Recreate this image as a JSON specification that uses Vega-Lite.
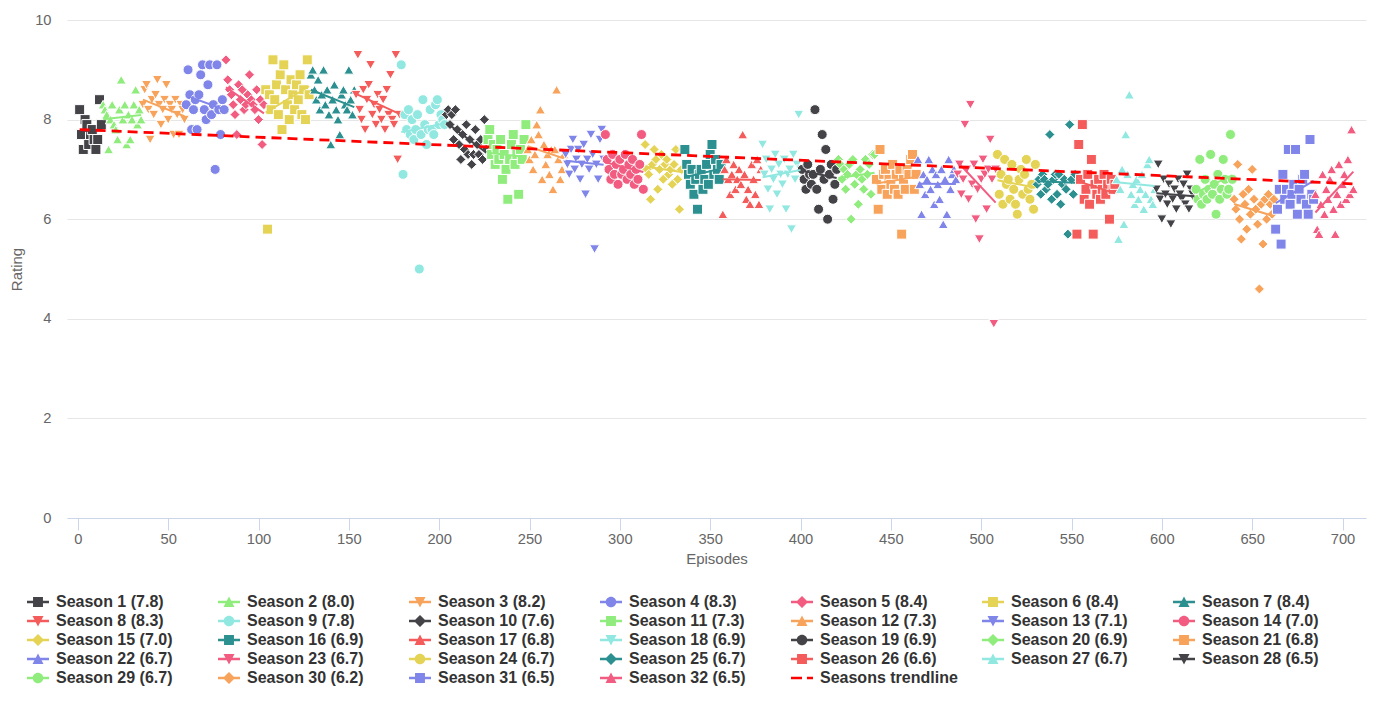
{
  "$schema": "https://vega.github.io/schema/vega-lite/v6.json",
  "width": 1299,
  "height": 498,
  "autosize": {"type": "none"},
  "padding": {"left": 67, "top": 20, "right": 11, "bottom": 186},
  "background": "white",
  "config": {
    "view": {"stroke": null},
    "font": "Liberation Sans"
  },
  "datasets": {
    "seasons": [
      {"s": 1, "label": "Season 1 (7.8)"}, {"s": 2, "label": "Season 2 (8.0)"}, {"s": 3, "label": "Season 3 (8.2)"}, {"s": 4, "label": "Season 4 (8.3)"},
      {"s": 5, "label": "Season 5 (8.4)"}, {"s": 6, "label": "Season 6 (8.4)"}, {"s": 7, "label": "Season 7 (8.4)"}, {"s": 8, "label": "Season 8 (8.3)"},
      {"s": 9, "label": "Season 9 (7.8)"}, {"s": 10, "label": "Season 10 (7.6)"}, {"s": 11, "label": "Season 11 (7.3)"}, {"s": 12, "label": "Season 12 (7.3)"},
      {"s": 13, "label": "Season 13 (7.1)"}, {"s": 14, "label": "Season 14 (7.0)"}, {"s": 15, "label": "Season 15 (7.0)"}, {"s": 16, "label": "Season 16 (6.9)"},
      {"s": 17, "label": "Season 17 (6.8)"}, {"s": 18, "label": "Season 18 (6.9)"}, {"s": 19, "label": "Season 19 (6.9)"}, {"s": 20, "label": "Season 20 (6.9)"},
      {"s": 21, "label": "Season 21 (6.8)"}, {"s": 22, "label": "Season 22 (6.7)"}, {"s": 23, "label": "Season 23 (6.7)"}, {"s": 24, "label": "Season 24 (6.7)"},
      {"s": 25, "label": "Season 25 (6.7)"}, {"s": 26, "label": "Season 26 (6.6)"}, {"s": 27, "label": "Season 27 (6.7)"}, {"s": 28, "label": "Season 28 (6.5)"},
      {"s": 29, "label": "Season 29 (6.7)"}, {"s": 30, "label": "Season 30 (6.2)"}, {"s": 31, "label": "Season 31 (6.5)"}, {"s": 32, "label": "Season 32 (6.5)"}
    ],
    "trend": [
      {"e": 1, "r": 7.8},
      {"e": 706, "r": 6.71}
    ],
    "eps": [
      {"s":1,"e":1,"r":8.2},{"s":1,"e":2,"r":7.7},{"s":1,"e":3,"r":7.4},{"s":1,"e":4,"r":8.0},{"s":1,"e":5,"r":7.9},{"s":1,"e":6,"r":7.5},{"s":1,"e":7,"r":7.7},{"s":1,"e":8,"r":7.8},{"s":1,"e":9,"r":7.6},{"s":1,"e":10,"r":7.4},{"s":1,"e":11,"r":7.6},{"s":1,"e":12,"r":8.4},{"s":1,"e":13,"r":7.9},
      {"s":2,"e":14,"r":8.3},{"s":2,"e":15,"r":8.2},{"s":2,"e":16,"r":8.1},{"s":2,"e":17,"r":7.4},{"s":2,"e":18,"r":8.0},{"s":2,"e":19,"r":8.3},{"s":2,"e":20,"r":7.9},{"s":2,"e":21,"r":7.8},{"s":2,"e":22,"r":7.6},{"s":2,"e":23,"r":8.2},{"s":2,"e":24,"r":8.8},{"s":2,"e":25,"r":8.0},{"s":2,"e":26,"r":8.3},{"s":2,"e":27,"r":7.5},{"s":2,"e":28,"r":8.1},{"s":2,"e":29,"r":7.6},{"s":2,"e":30,"r":8.0},{"s":2,"e":31,"r":8.3},{"s":2,"e":32,"r":8.6},{"s":2,"e":33,"r":7.9},{"s":2,"e":34,"r":8.2},{"s":2,"e":35,"r":8.0},
      {"s":3,"e":36,"r":8.3},{"s":3,"e":37,"r":8.6},{"s":3,"e":38,"r":8.7},{"s":3,"e":39,"r":8.2},{"s":3,"e":40,"r":7.6},{"s":3,"e":41,"r":8.4},{"s":3,"e":42,"r":8.1},{"s":3,"e":43,"r":8.5},{"s":3,"e":44,"r":8.8},{"s":3,"e":45,"r":8.3},{"s":3,"e":46,"r":7.9},{"s":3,"e":47,"r":8.2},{"s":3,"e":48,"r":8.4},{"s":3,"e":49,"r":8.7},{"s":3,"e":50,"r":8.0},{"s":3,"e":51,"r":8.3},{"s":3,"e":52,"r":8.2},{"s":3,"e":53,"r":7.7},{"s":3,"e":54,"r":8.4},{"s":3,"e":55,"r":8.1},{"s":3,"e":56,"r":7.7},{"s":3,"e":57,"r":8.3},{"s":3,"e":58,"r":8.2},{"s":3,"e":59,"r":8.0},
      {"s":4,"e":60,"r":8.3},{"s":4,"e":61,"r":9.0},{"s":4,"e":62,"r":8.5},{"s":4,"e":63,"r":7.8},{"s":4,"e":64,"r":8.2},{"s":4,"e":65,"r":8.4},{"s":4,"e":66,"r":7.8},{"s":4,"e":67,"r":8.5},{"s":4,"e":68,"r":8.9},{"s":4,"e":69,"r":9.1},{"s":4,"e":70,"r":8.2},{"s":4,"e":71,"r":8.0},{"s":4,"e":72,"r":8.7},{"s":4,"e":73,"r":9.1},{"s":4,"e":74,"r":8.1},{"s":4,"e":75,"r":8.3},{"s":4,"e":76,"r":7.0},{"s":4,"e":77,"r":9.1},{"s":4,"e":78,"r":8.2},{"s":4,"e":79,"r":7.7},{"s":4,"e":80,"r":8.4},{"s":4,"e":81,"r":8.2},
      {"s":5,"e":82,"r":9.2},{"s":5,"e":83,"r":8.8},{"s":5,"e":84,"r":8.6},{"s":5,"e":85,"r":8.5},{"s":5,"e":86,"r":8.3},{"s":5,"e":87,"r":8.1},{"s":5,"e":88,"r":7.7},{"s":5,"e":89,"r":8.7},{"s":5,"e":90,"r":8.4},{"s":5,"e":91,"r":8.6},{"s":5,"e":92,"r":8.2},{"s":5,"e":93,"r":8.3},{"s":5,"e":94,"r":8.5},{"s":5,"e":95,"r":8.9},{"s":5,"e":96,"r":8.4},{"s":5,"e":97,"r":8.3},{"s":5,"e":98,"r":8.2},{"s":5,"e":99,"r":8.6},{"s":5,"e":100,"r":8.0},{"s":5,"e":101,"r":8.4},{"s":5,"e":102,"r":7.5},{"s":5,"e":103,"r":8.3},
      {"s":6,"e":104,"r":8.6},{"s":6,"e":105,"r":5.8},{"s":6,"e":106,"r":8.5},{"s":6,"e":107,"r":8.2},{"s":6,"e":108,"r":9.2},{"s":6,"e":109,"r":8.4},{"s":6,"e":110,"r":8.7},{"s":6,"e":111,"r":8.1},{"s":6,"e":112,"r":8.9},{"s":6,"e":113,"r":7.8},{"s":6,"e":114,"r":9.1},{"s":6,"e":115,"r":8.6},{"s":6,"e":116,"r":8.3},{"s":6,"e":117,"r":8.0},{"s":6,"e":118,"r":8.8},{"s":6,"e":119,"r":8.5},{"s":6,"e":120,"r":8.2},{"s":6,"e":121,"r":8.7},{"s":6,"e":122,"r":8.4},{"s":6,"e":123,"r":8.9},{"s":6,"e":124,"r":8.1},{"s":6,"e":125,"r":8.6},{"s":6,"e":126,"r":8.0},{"s":6,"e":127,"r":9.2},{"s":6,"e":128,"r":8.5},
      {"s":7,"e":129,"r":8.9},{"s":7,"e":130,"r":9.0},{"s":7,"e":131,"r":8.6},{"s":7,"e":132,"r":8.4},{"s":7,"e":133,"r":8.8},{"s":7,"e":134,"r":8.2},{"s":7,"e":135,"r":8.5},{"s":7,"e":136,"r":9.0},{"s":7,"e":137,"r":8.3},{"s":7,"e":138,"r":8.6},{"s":7,"e":139,"r":8.1},{"s":7,"e":140,"r":7.5},{"s":7,"e":141,"r":8.4},{"s":7,"e":142,"r":8.7},{"s":7,"e":143,"r":8.2},{"s":7,"e":144,"r":8.0},{"s":7,"e":145,"r":7.7},{"s":7,"e":146,"r":8.5},{"s":7,"e":147,"r":8.6},{"s":7,"e":148,"r":8.3},{"s":7,"e":149,"r":8.2},{"s":7,"e":150,"r":9.0},{"s":7,"e":151,"r":8.4},{"s":7,"e":152,"r":8.1},{"s":7,"e":153,"r":8.6},
      {"s":8,"e":154,"r":8.5},{"s":8,"e":155,"r":9.3},{"s":8,"e":156,"r":8.2},{"s":8,"e":157,"r":8.0},{"s":8,"e":158,"r":8.6},{"s":8,"e":159,"r":7.8},{"s":8,"e":160,"r":8.4},{"s":8,"e":161,"r":8.7},{"s":8,"e":162,"r":9.1},{"s":8,"e":163,"r":8.1},{"s":8,"e":164,"r":8.3},{"s":8,"e":165,"r":7.9},{"s":8,"e":166,"r":8.5},{"s":8,"e":167,"r":8.2},{"s":8,"e":168,"r":8.0},{"s":8,"e":169,"r":8.4},{"s":8,"e":170,"r":7.8},{"s":8,"e":171,"r":8.6},{"s":8,"e":172,"r":8.1},{"s":8,"e":173,"r":8.9},{"s":8,"e":174,"r":8.0},{"s":8,"e":175,"r":7.9},{"s":8,"e":176,"r":9.3},{"s":8,"e":177,"r":7.2},{"s":8,"e":178,"r":8.1},
      {"s":9,"e":179,"r":9.1},{"s":9,"e":180,"r":6.9},{"s":9,"e":181,"r":8.1},{"s":9,"e":182,"r":7.8},{"s":9,"e":183,"r":8.2},{"s":9,"e":184,"r":7.7},{"s":9,"e":185,"r":8.0},{"s":9,"e":186,"r":7.6},{"s":9,"e":187,"r":7.8},{"s":9,"e":188,"r":8.1},{"s":9,"e":189,"r":5.0},{"s":9,"e":190,"r":7.7},{"s":9,"e":191,"r":8.4},{"s":9,"e":192,"r":7.9},{"s":9,"e":193,"r":7.5},{"s":9,"e":194,"r":7.8},{"s":9,"e":195,"r":8.2},{"s":9,"e":196,"r":7.8},{"s":9,"e":197,"r":7.7},{"s":9,"e":198,"r":8.3},{"s":9,"e":199,"r":8.4},{"s":9,"e":200,"r":7.9},{"s":9,"e":201,"r":8.1},{"s":9,"e":202,"r":8.0},{"s":9,"e":203,"r":7.9},
      {"s":10,"e":204,"r":8.1},{"s":10,"e":205,"r":8.2},{"s":10,"e":206,"r":7.9},{"s":10,"e":207,"r":8.1},{"s":10,"e":208,"r":7.6},{"s":10,"e":209,"r":8.2},{"s":10,"e":210,"r":7.8},{"s":10,"e":211,"r":7.5},{"s":10,"e":212,"r":7.2},{"s":10,"e":213,"r":7.7},{"s":10,"e":214,"r":7.4},{"s":10,"e":215,"r":7.9},{"s":10,"e":216,"r":7.3},{"s":10,"e":217,"r":7.6},{"s":10,"e":218,"r":7.1},{"s":10,"e":219,"r":7.3},{"s":10,"e":220,"r":7.8},{"s":10,"e":221,"r":7.5},{"s":10,"e":222,"r":7.3},{"s":10,"e":223,"r":7.6},{"s":10,"e":224,"r":7.2},{"s":10,"e":225,"r":8.0},{"s":10,"e":226,"r":7.4},
      {"s":11,"e":227,"r":7.6},{"s":11,"e":228,"r":7.8},{"s":11,"e":229,"r":7.3},{"s":11,"e":230,"r":7.5},{"s":11,"e":231,"r":7.1},{"s":11,"e":232,"r":7.4},{"s":11,"e":233,"r":7.2},{"s":11,"e":234,"r":7.6},{"s":11,"e":235,"r":6.8},{"s":11,"e":236,"r":7.3},{"s":11,"e":237,"r":7.0},{"s":11,"e":238,"r":6.4},{"s":11,"e":239,"r":7.2},{"s":11,"e":240,"r":7.5},{"s":11,"e":241,"r":7.7},{"s":11,"e":242,"r":7.1},{"s":11,"e":243,"r":7.3},{"s":11,"e":244,"r":6.5},{"s":11,"e":245,"r":7.4},{"s":11,"e":246,"r":7.2},{"s":11,"e":247,"r":7.6},{"s":11,"e":248,"r":7.9},
      {"s":12,"e":249,"r":7.4},{"s":12,"e":250,"r":7.2},{"s":12,"e":251,"r":7.6},{"s":12,"e":252,"r":7.0},{"s":12,"e":253,"r":7.3},{"s":12,"e":254,"r":7.9},{"s":12,"e":255,"r":7.7},{"s":12,"e":256,"r":8.2},{"s":12,"e":257,"r":6.8},{"s":12,"e":258,"r":7.5},{"s":12,"e":259,"r":7.1},{"s":12,"e":260,"r":7.3},{"s":12,"e":261,"r":6.9},{"s":12,"e":262,"r":7.4},{"s":12,"e":263,"r":6.6},{"s":12,"e":264,"r":7.4},{"s":12,"e":265,"r":8.6},{"s":12,"e":266,"r":7.2},{"s":12,"e":267,"r":6.8},{"s":12,"e":268,"r":7.0},{"s":12,"e":269,"r":7.3},
      {"s":13,"e":270,"r":7.3},{"s":13,"e":271,"r":7.1},{"s":13,"e":272,"r":6.9},{"s":13,"e":273,"r":7.4},{"s":13,"e":274,"r":7.6},{"s":13,"e":275,"r":7.0},{"s":13,"e":276,"r":7.2},{"s":13,"e":277,"r":7.4},{"s":13,"e":278,"r":6.8},{"s":13,"e":279,"r":7.1},{"s":13,"e":280,"r":7.5},{"s":13,"e":281,"r":6.5},{"s":13,"e":282,"r":7.2},{"s":13,"e":283,"r":7.0},{"s":13,"e":284,"r":7.7},{"s":13,"e":285,"r":7.3},{"s":13,"e":286,"r":5.4},{"s":13,"e":287,"r":7.1},{"s":13,"e":288,"r":6.8},{"s":13,"e":289,"r":7.6},{"s":13,"e":290,"r":7.8},{"s":13,"e":291,"r":7.2},
      {"s":14,"e":292,"r":7.7},{"s":14,"e":293,"r":7.2},{"s":14,"e":294,"r":7.0},{"s":14,"e":295,"r":6.8},{"s":14,"e":296,"r":7.3},{"s":14,"e":297,"r":6.9},{"s":14,"e":298,"r":7.1},{"s":14,"e":299,"r":6.7},{"s":14,"e":300,"r":7.2},{"s":14,"e":301,"r":6.9},{"s":14,"e":302,"r":7.0},{"s":14,"e":303,"r":7.3},{"s":14,"e":304,"r":6.8},{"s":14,"e":305,"r":7.1},{"s":14,"e":306,"r":6.9},{"s":14,"e":307,"r":7.2},{"s":14,"e":308,"r":6.7},{"s":14,"e":309,"r":7.0},{"s":14,"e":310,"r":6.8},{"s":14,"e":311,"r":7.1},{"s":14,"e":312,"r":7.7},{"s":14,"e":313,"r":6.6},
      {"s":15,"e":314,"r":7.5},{"s":15,"e":315,"r":7.0},{"s":15,"e":316,"r":6.9},{"s":15,"e":317,"r":6.4},{"s":15,"e":318,"r":7.1},{"s":15,"e":319,"r":7.4},{"s":15,"e":320,"r":7.2},{"s":15,"e":321,"r":6.6},{"s":15,"e":322,"r":7.0},{"s":15,"e":323,"r":7.3},{"s":15,"e":324,"r":6.8},{"s":15,"e":325,"r":7.1},{"s":15,"e":326,"r":7.2},{"s":15,"e":327,"r":6.9},{"s":15,"e":328,"r":7.0},{"s":15,"e":329,"r":6.7},{"s":15,"e":330,"r":7.1},{"s":15,"e":331,"r":7.4},{"s":15,"e":332,"r":6.8},{"s":15,"e":333,"r":6.2},{"s":15,"e":334,"r":7.0},{"s":15,"e":335,"r":7.4},
      {"s":16,"e":336,"r":7.4},{"s":16,"e":337,"r":7.1},{"s":16,"e":338,"r":6.9},{"s":16,"e":339,"r":6.7},{"s":16,"e":340,"r":7.0},{"s":16,"e":341,"r":6.5},{"s":16,"e":342,"r":6.8},{"s":16,"e":343,"r":6.2},{"s":16,"e":344,"r":6.9},{"s":16,"e":345,"r":7.0},{"s":16,"e":346,"r":6.6},{"s":16,"e":347,"r":6.8},{"s":16,"e":348,"r":7.1},{"s":16,"e":349,"r":6.7},{"s":16,"e":350,"r":7.3},{"s":16,"e":351,"r":7.5},{"s":16,"e":352,"r":6.9},{"s":16,"e":353,"r":7.2},{"s":16,"e":354,"r":7.0},{"s":16,"e":355,"r":6.8},{"s":16,"e":356,"r":7.1},
      {"s":17,"e":357,"r":6.1},{"s":17,"e":358,"r":7.0},{"s":17,"e":359,"r":7.2},{"s":17,"e":360,"r":6.8},{"s":17,"e":361,"r":6.5},{"s":17,"e":362,"r":6.9},{"s":17,"e":363,"r":7.1},{"s":17,"e":364,"r":6.6},{"s":17,"e":365,"r":6.8},{"s":17,"e":366,"r":7.0},{"s":17,"e":367,"r":6.7},{"s":17,"e":368,"r":7.7},{"s":17,"e":369,"r":6.9},{"s":17,"e":370,"r":6.4},{"s":17,"e":371,"r":6.6},{"s":17,"e":372,"r":6.3},{"s":17,"e":373,"r":7.1},{"s":17,"e":374,"r":6.8},{"s":17,"e":375,"r":6.5},{"s":17,"e":376,"r":7.2},{"s":17,"e":377,"r":6.3},{"s":17,"e":378,"r":7.0},
      {"s":18,"e":379,"r":7.5},{"s":18,"e":380,"r":6.9},{"s":18,"e":381,"r":7.2},{"s":18,"e":382,"r":6.6},{"s":18,"e":383,"r":6.2},{"s":18,"e":384,"r":7.0},{"s":18,"e":385,"r":6.8},{"s":18,"e":386,"r":7.3},{"s":18,"e":387,"r":6.5},{"s":18,"e":388,"r":7.1},{"s":18,"e":389,"r":6.9},{"s":18,"e":390,"r":6.7},{"s":18,"e":391,"r":7.2},{"s":18,"e":392,"r":6.2},{"s":18,"e":393,"r":6.9},{"s":18,"e":394,"r":7.0},{"s":18,"e":395,"r":5.8},{"s":18,"e":396,"r":7.3},{"s":18,"e":397,"r":6.8},{"s":18,"e":398,"r":7.1},{"s":18,"e":399,"r":8.1},{"s":18,"e":400,"r":7.0},
      {"s":19,"e":401,"r":7.0},{"s":19,"e":402,"r":6.8},{"s":19,"e":403,"r":6.6},{"s":19,"e":404,"r":7.1},{"s":19,"e":405,"r":6.9},{"s":19,"e":406,"r":6.7},{"s":19,"e":407,"r":6.9},{"s":19,"e":408,"r":8.2},{"s":19,"e":409,"r":6.6},{"s":19,"e":410,"r":6.2},{"s":19,"e":411,"r":7.0},{"s":19,"e":412,"r":7.7},{"s":19,"e":413,"r":6.8},{"s":19,"e":414,"r":7.4},{"s":19,"e":415,"r":6.0},{"s":19,"e":416,"r":6.9},{"s":19,"e":417,"r":7.1},{"s":19,"e":418,"r":6.4},{"s":19,"e":419,"r":6.7},{"s":19,"e":420,"r":7.0},
      {"s":20,"e":421,"r":7.2},{"s":20,"e":422,"r":7.1},{"s":20,"e":423,"r":6.8},{"s":20,"e":424,"r":7.0},{"s":20,"e":425,"r":6.6},{"s":20,"e":426,"r":6.9},{"s":20,"e":427,"r":7.1},{"s":20,"e":428,"r":6.0},{"s":20,"e":429,"r":7.2},{"s":20,"e":430,"r":6.7},{"s":20,"e":431,"r":6.9},{"s":20,"e":432,"r":6.3},{"s":20,"e":433,"r":7.0},{"s":20,"e":434,"r":6.8},{"s":20,"e":435,"r":6.6},{"s":20,"e":436,"r":7.2},{"s":20,"e":437,"r":6.9},{"s":20,"e":438,"r":7.1},{"s":20,"e":439,"r":6.5},{"s":20,"e":440,"r":7.3},{"s":20,"e":441,"r":7.3},
      {"s":21,"e":442,"r":6.8},{"s":21,"e":443,"r":6.2},{"s":21,"e":444,"r":7.4},{"s":21,"e":445,"r":6.6},{"s":21,"e":446,"r":6.9},{"s":21,"e":447,"r":7.0},{"s":21,"e":448,"r":6.5},{"s":21,"e":449,"r":6.8},{"s":21,"e":450,"r":6.7},{"s":21,"e":451,"r":7.1},{"s":21,"e":452,"r":6.6},{"s":21,"e":453,"r":6.9},{"s":21,"e":454,"r":6.5},{"s":21,"e":455,"r":7.0},{"s":21,"e":456,"r":5.7},{"s":21,"e":457,"r":6.8},{"s":21,"e":458,"r":6.6},{"s":21,"e":459,"r":7.0},{"s":21,"e":460,"r":6.9},{"s":21,"e":461,"r":7.2},{"s":21,"e":462,"r":7.3},{"s":21,"e":463,"r":6.6},{"s":21,"e":464,"r":6.9},
      {"s":22,"e":465,"r":7.2},{"s":22,"e":466,"r":6.7},{"s":22,"e":467,"r":6.1},{"s":22,"e":468,"r":6.9},{"s":22,"e":469,"r":6.5},{"s":22,"e":470,"r":6.8},{"s":22,"e":471,"r":7.2},{"s":22,"e":472,"r":6.6},{"s":22,"e":473,"r":7.0},{"s":22,"e":474,"r":6.3},{"s":22,"e":475,"r":6.9},{"s":22,"e":476,"r":6.7},{"s":22,"e":477,"r":6.4},{"s":22,"e":478,"r":7.0},{"s":22,"e":479,"r":5.9},{"s":22,"e":480,"r":6.8},{"s":22,"e":481,"r":6.1},{"s":22,"e":482,"r":7.2},{"s":22,"e":483,"r":6.6},{"s":22,"e":484,"r":6.9},{"s":22,"e":485,"r":7.0},{"s":22,"e":486,"r":6.8},
      {"s":23,"e":487,"r":6.9},{"s":23,"e":488,"r":7.1},{"s":23,"e":489,"r":6.5},{"s":23,"e":490,"r":6.8},{"s":23,"e":491,"r":7.9},{"s":23,"e":492,"r":7.0},{"s":23,"e":493,"r":6.4},{"s":23,"e":494,"r":8.3},{"s":23,"e":495,"r":6.7},{"s":23,"e":496,"r":7.1},{"s":23,"e":497,"r":6.0},{"s":23,"e":498,"r":6.6},{"s":23,"e":499,"r":5.6},{"s":23,"e":500,"r":6.8},{"s":23,"e":501,"r":7.2},{"s":23,"e":502,"r":6.9},{"s":23,"e":503,"r":6.2},{"s":23,"e":504,"r":7.0},{"s":23,"e":505,"r":7.6},{"s":23,"e":506,"r":6.8},{"s":23,"e":507,"r":3.9},{"s":23,"e":508,"r":7.0},
      {"s":24,"e":509,"r":7.3},{"s":24,"e":510,"r":6.5},{"s":24,"e":511,"r":6.9},{"s":24,"e":512,"r":6.3},{"s":24,"e":513,"r":7.2},{"s":24,"e":514,"r":6.7},{"s":24,"e":515,"r":6.8},{"s":24,"e":516,"r":6.4},{"s":24,"e":517,"r":7.1},{"s":24,"e":518,"r":6.6},{"s":24,"e":519,"r":6.3},{"s":24,"e":520,"r":6.1},{"s":24,"e":521,"r":6.8},{"s":24,"e":522,"r":7.0},{"s":24,"e":523,"r":6.5},{"s":24,"e":524,"r":6.9},{"s":24,"e":525,"r":7.2},{"s":24,"e":526,"r":6.6},{"s":24,"e":527,"r":6.4},{"s":24,"e":528,"r":6.7},{"s":24,"e":529,"r":6.2},{"s":24,"e":530,"r":7.1},
      {"s":25,"e":531,"r":6.7},{"s":25,"e":532,"r":6.8},{"s":25,"e":533,"r":6.5},{"s":25,"e":534,"r":6.9},{"s":25,"e":535,"r":6.8},{"s":25,"e":536,"r":6.6},{"s":25,"e":537,"r":6.7},{"s":25,"e":538,"r":7.7},{"s":25,"e":539,"r":6.4},{"s":25,"e":540,"r":6.8},{"s":25,"e":541,"r":6.9},{"s":25,"e":542,"r":6.5},{"s":25,"e":543,"r":6.9},{"s":25,"e":544,"r":6.3},{"s":25,"e":545,"r":6.7},{"s":25,"e":546,"r":6.8},{"s":25,"e":547,"r":6.6},{"s":25,"e":548,"r":5.7},{"s":25,"e":549,"r":7.9},{"s":25,"e":550,"r":6.8},{"s":25,"e":551,"r":6.5},{"s":25,"e":552,"r":6.9},
      {"s":26,"e":553,"r":5.7},{"s":26,"e":554,"r":7.5},{"s":26,"e":555,"r":6.8},{"s":26,"e":556,"r":7.9},{"s":26,"e":557,"r":6.4},{"s":26,"e":558,"r":6.6},{"s":26,"e":559,"r":6.9},{"s":26,"e":560,"r":6.3},{"s":26,"e":561,"r":7.2},{"s":26,"e":562,"r":5.7},{"s":26,"e":563,"r":6.7},{"s":26,"e":564,"r":6.5},{"s":26,"e":565,"r":6.8},{"s":26,"e":566,"r":6.4},{"s":26,"e":567,"r":6.6},{"s":26,"e":568,"r":6.9},{"s":26,"e":569,"r":6.5},{"s":26,"e":570,"r":6.7},{"s":26,"e":571,"r":6.0},{"s":26,"e":572,"r":6.8},{"s":26,"e":573,"r":6.6},{"s":26,"e":574,"r":6.7},
      {"s":27,"e":575,"r":6.8},{"s":27,"e":576,"r":5.6},{"s":27,"e":577,"r":6.6},{"s":27,"e":578,"r":7.0},{"s":27,"e":579,"r":5.9},{"s":27,"e":580,"r":7.7},{"s":27,"e":581,"r":6.9},{"s":27,"e":582,"r":8.5},{"s":27,"e":583,"r":6.5},{"s":27,"e":584,"r":6.7},{"s":27,"e":585,"r":6.3},{"s":27,"e":586,"r":6.8},{"s":27,"e":587,"r":6.4},{"s":27,"e":588,"r":6.6},{"s":27,"e":589,"r":6.9},{"s":27,"e":590,"r":6.2},{"s":27,"e":591,"r":6.5},{"s":27,"e":592,"r":7.1},{"s":27,"e":593,"r":7.2},{"s":27,"e":594,"r":6.4},{"s":27,"e":595,"r":6.3},{"s":27,"e":596,"r":6.6},
      {"s":28,"e":597,"r":6.6},{"s":28,"e":598,"r":7.1},{"s":28,"e":599,"r":6.4},{"s":28,"e":600,"r":6.0},{"s":28,"e":601,"r":6.8},{"s":28,"e":602,"r":6.5},{"s":28,"e":603,"r":6.3},{"s":28,"e":604,"r":6.7},{"s":28,"e":605,"r":5.9},{"s":28,"e":606,"r":6.4},{"s":28,"e":607,"r":6.6},{"s":28,"e":608,"r":6.2},{"s":28,"e":609,"r":6.8},{"s":28,"e":610,"r":6.5},{"s":28,"e":611,"r":6.4},{"s":28,"e":612,"r":6.7},{"s":28,"e":613,"r":6.3},{"s":28,"e":614,"r":6.9},{"s":28,"e":615,"r":6.2},{"s":28,"e":616,"r":6.6},{"s":28,"e":617,"r":6.5},{"s":28,"e":618,"r":6.4},
      {"s":29,"e":619,"r":6.6},{"s":29,"e":620,"r":6.4},{"s":29,"e":621,"r":7.2},{"s":29,"e":622,"r":6.3},{"s":29,"e":623,"r":6.5},{"s":29,"e":624,"r":6.8},{"s":29,"e":625,"r":6.4},{"s":29,"e":626,"r":6.6},{"s":29,"e":627,"r":7.3},{"s":29,"e":628,"r":6.5},{"s":29,"e":629,"r":6.7},{"s":29,"e":630,"r":6.1},{"s":29,"e":631,"r":6.9},{"s":29,"e":632,"r":6.4},{"s":29,"e":633,"r":6.6},{"s":29,"e":634,"r":7.2},{"s":29,"e":635,"r":6.8},{"s":29,"e":636,"r":6.5},{"s":29,"e":637,"r":6.6},{"s":29,"e":638,"r":7.7},{"s":29,"e":639,"r":6.8},
      {"s":30,"e":640,"r":6.4},{"s":30,"e":641,"r":6.2},{"s":30,"e":642,"r":7.1},{"s":30,"e":643,"r":6.0},{"s":30,"e":644,"r":5.6},{"s":30,"e":645,"r":6.5},{"s":30,"e":646,"r":6.3},{"s":30,"e":647,"r":5.8},{"s":30,"e":648,"r":6.6},{"s":30,"e":649,"r":6.1},{"s":30,"e":650,"r":7.0},{"s":30,"e":651,"r":6.4},{"s":30,"e":652,"r":6.2},{"s":30,"e":653,"r":5.9},{"s":30,"e":654,"r":4.6},{"s":30,"e":655,"r":6.3},{"s":30,"e":656,"r":5.5},{"s":30,"e":657,"r":6.4},{"s":30,"e":658,"r":6.0},{"s":30,"e":659,"r":6.5},{"s":30,"e":660,"r":6.3},{"s":30,"e":661,"r":6.1},{"s":30,"e":662,"r":6.4},
      {"s":31,"e":663,"r":5.8},{"s":31,"e":664,"r":6.2},{"s":31,"e":665,"r":6.6},{"s":31,"e":666,"r":5.5},{"s":31,"e":667,"r":6.9},{"s":31,"e":668,"r":6.4},{"s":31,"e":669,"r":6.6},{"s":31,"e":670,"r":7.4},{"s":31,"e":671,"r":6.3},{"s":31,"e":672,"r":6.5},{"s":31,"e":673,"r":6.7},{"s":31,"e":674,"r":7.4},{"s":31,"e":675,"r":6.1},{"s":31,"e":676,"r":6.6},{"s":31,"e":677,"r":6.4},{"s":31,"e":678,"r":6.8},{"s":31,"e":679,"r":6.9},{"s":31,"e":680,"r":6.3},{"s":31,"e":681,"r":6.1},{"s":31,"e":682,"r":7.6},{"s":31,"e":683,"r":6.5},{"s":31,"e":684,"r":6.4},
      {"s":32,"e":685,"r":6.5},{"s":32,"e":686,"r":5.8},{"s":32,"e":687,"r":5.7},{"s":32,"e":688,"r":6.3},{"s":32,"e":689,"r":6.9},{"s":32,"e":690,"r":6.1},{"s":32,"e":691,"r":6.6},{"s":32,"e":692,"r":6.4},{"s":32,"e":693,"r":6.8},{"s":32,"e":694,"r":7.0},{"s":32,"e":695,"r":6.2},{"s":32,"e":696,"r":5.7},{"s":32,"e":697,"r":6.5},{"s":32,"e":698,"r":7.1},{"s":32,"e":699,"r":6.3},{"s":32,"e":700,"r":6.7},{"s":32,"e":701,"r":6.9},{"s":32,"e":702,"r":6.4},{"s":32,"e":703,"r":7.2},{"s":32,"e":704,"r":6.5},{"s":32,"e":705,"r":7.8},{"s":32,"e":706,"r":6.6}
    ]
  },
  "encoding": {
    "x": {
      "field": "e",
      "type": "quantitative",
      "title": "Episodes",
      "scale": {"domain": [-6, 713], "nice": false, "zero": false},
      "axis": {
        "values": [0, 50, 100, 150, 200, 250, 300, 350, 400, 450, 500, 550, 600, 650, 700],
        "grid": false,
        "domainColor": "#ccd6eb",
        "tickColor": "#ccd6eb",
        "tickSize": 12,
        "labelFontSize": 14.7,
        "labelColor": "#666666",
        "labelPadding": 1,
        "labelFlush": false,
        "titleFontSize": 15,
        "titleColor": "#666666",
        "titleFontWeight": "normal",
        "titlePadding": 6
      }
    },
    "y": {
      "field": "r",
      "type": "quantitative",
      "title": "Rating",
      "scale": {"domain": [0, 10], "nice": false},
      "axis": {
        "values": [0, 2, 4, 6, 8, 10],
        "grid": true,
        "gridColor": "#e6e6e6",
        "domain": false,
        "ticks": false,
        "labelPadding": 16,
        "labelFontSize": 14.7,
        "labelColor": "#666666",
        "titleFontSize": 15,
        "titleColor": "#666666",
        "titleFontWeight": "normal",
        "titlePadding": 10
      }
    }
  },
  "resolve": {"scale": {"color": "independent", "shape": "independent"}},
  "layer": [
    {
      "layer": [
        {
          "data": {"name": "eps"},
          "transform": [
            {"lookup": "s", "from": {"data": {"name": "seasons"}, "key": "s", "fields": ["label"]}}
          ],
          "mark": {"type": "point", "filled": true, "size": 100, "opacity": 1, "stroke": "white", "strokeWidth": 1},
          "encoding": {
            "color": {
              "field": "label",
              "type": "nominal",
              "legend": null,
              "scale": {
                "domain": ["Season 1 (7.8)", "Season 2 (8.0)", "Season 3 (8.2)", "Season 4 (8.3)", "Season 5 (8.4)", "Season 6 (8.4)", "Season 7 (8.4)", "Season 8 (8.3)", "Season 9 (7.8)", "Season 10 (7.6)", "Season 11 (7.3)", "Season 12 (7.3)", "Season 13 (7.1)", "Season 14 (7.0)", "Season 15 (7.0)", "Season 16 (6.9)", "Season 17 (6.8)", "Season 18 (6.9)", "Season 19 (6.9)", "Season 20 (6.9)", "Season 21 (6.8)", "Season 22 (6.7)", "Season 23 (6.7)", "Season 24 (6.7)", "Season 25 (6.7)", "Season 26 (6.6)", "Season 27 (6.7)", "Season 28 (6.5)", "Season 29 (6.7)", "Season 30 (6.2)", "Season 31 (6.5)", "Season 32 (6.5)"],
                "range": ["#434348", "#90ed7d", "#f7a35c", "#8085e9", "#f15c80", "#e4d354", "#2b908f", "#f45b5b", "#91e8e1", "#434348", "#90ed7d", "#f7a35c", "#8085e9", "#f15c80", "#e4d354", "#2b908f", "#f45b5b", "#91e8e1", "#434348", "#90ed7d", "#f7a35c", "#8085e9", "#f15c80", "#e4d354", "#2b908f", "#f45b5b", "#91e8e1", "#434348", "#90ed7d", "#f7a35c", "#8085e9", "#f15c80"]
              }
            },
            "shape": {
              "field": "label",
              "type": "nominal",
              "legend": null,
              "scale": {
                "domain": ["Season 1 (7.8)", "Season 2 (8.0)", "Season 3 (8.2)", "Season 4 (8.3)", "Season 5 (8.4)", "Season 6 (8.4)", "Season 7 (8.4)", "Season 8 (8.3)", "Season 9 (7.8)", "Season 10 (7.6)", "Season 11 (7.3)", "Season 12 (7.3)", "Season 13 (7.1)", "Season 14 (7.0)", "Season 15 (7.0)", "Season 16 (6.9)", "Season 17 (6.8)", "Season 18 (6.9)", "Season 19 (6.9)", "Season 20 (6.9)", "Season 21 (6.8)", "Season 22 (6.7)", "Season 23 (6.7)", "Season 24 (6.7)", "Season 25 (6.7)", "Season 26 (6.6)", "Season 27 (6.7)", "Season 28 (6.5)", "Season 29 (6.7)", "Season 30 (6.2)", "Season 31 (6.5)", "Season 32 (6.5)"],
                "range": ["square", "triangle-up", "triangle-down", "circle", "diamond", "square", "triangle-up", "triangle-down", "circle", "diamond", "square", "triangle-up", "triangle-down", "circle", "diamond", "square", "triangle-up", "triangle-down", "circle", "diamond", "square", "triangle-up", "triangle-down", "circle", "diamond", "square", "triangle-up", "triangle-down", "circle", "diamond", "square", "triangle-up"]
              }
            }
          }
        },
        {
          "data": {"name": "eps"},
          "transform": [
            {"lookup": "s", "from": {"data": {"name": "seasons"}, "key": "s", "fields": ["label"]}},
            {"regression": "r", "on": "e", "groupby": ["label"]}
          ],
          "mark": {"type": "line", "strokeWidth": 2},
          "encoding": {
            "color": {"field": "label", "type": "nominal", "legend": null}
          }
        },
        {
          "data": {"name": "trend"},
          "mark": {"type": "line", "color": "#ff0000", "strokeWidth": 2.8, "strokeDash": [10, 6]},
          "encoding": {}
        }
      ]
    },
    {
      "data": {"name": "seasons"},
      "transform": [{"filter": "false"}],
      "mark": {"type": "point", "filled": true, "opacity": 1},
      "encoding": {
        "color": {
          "field": "label",
          "type": "nominal",
          "scale": {
            "domain": ["Season 1 (7.8)", "Season 2 (8.0)", "Season 3 (8.2)", "Season 4 (8.3)", "Season 5 (8.4)", "Season 6 (8.4)", "Season 7 (8.4)", "Season 8 (8.3)", "Season 9 (7.8)", "Season 10 (7.6)", "Season 11 (7.3)", "Season 12 (7.3)", "Season 13 (7.1)", "Season 14 (7.0)", "Season 15 (7.0)", "Season 16 (6.9)", "Season 17 (6.8)", "Season 18 (6.9)", "Season 19 (6.9)", "Season 20 (6.9)", "Season 21 (6.8)", "Season 22 (6.7)", "Season 23 (6.7)", "Season 24 (6.7)", "Season 25 (6.7)", "Season 26 (6.6)", "Season 27 (6.7)", "Season 28 (6.5)", "Season 29 (6.7)", "Season 30 (6.2)", "Season 31 (6.5)", "Season 32 (6.5)", "Seasons trendline"],
            "range": ["#434348", "#90ed7d", "#f7a35c", "#8085e9", "#f15c80", "#e4d354", "#2b908f", "#f45b5b", "#91e8e1", "#434348", "#90ed7d", "#f7a35c", "#8085e9", "#f15c80", "#e4d354", "#2b908f", "#f45b5b", "#91e8e1", "#434348", "#90ed7d", "#f7a35c", "#8085e9", "#f15c80", "#e4d354", "#2b908f", "#f45b5b", "#91e8e1", "#434348", "#90ed7d", "#f7a35c", "#8085e9", "#f15c80", "#ff0000"]
          },
          "legend": {
            "title": null,
            "orient": "none",
            "legendX": -40,
            "legendY": 571,
            "direction": "horizontal",
            "columns": 7,
            "gridAlign": "all",
            "columnPadding": 24,
            "rowPadding": 0,
            "padding": 0,
            "symbolLimit": 50,
            "symbolSize": 484,
            "symbolOpacity": 1,
            "symbolFillColor": null,
            "symbolStrokeWidth": 0,
            "labelFontSize": 16,
            "labelFontWeight": "bold",
            "labelColor": "#333333",
            "labelOffset": 7,
            "labelLimit": 300
          }
        },
        "shape": {
          "field": "label",
          "type": "nominal",
          "scale": {
            "domain": ["Season 1 (7.8)", "Season 2 (8.0)", "Season 3 (8.2)", "Season 4 (8.3)", "Season 5 (8.4)", "Season 6 (8.4)", "Season 7 (8.4)", "Season 8 (8.3)", "Season 9 (7.8)", "Season 10 (7.6)", "Season 11 (7.3)", "Season 12 (7.3)", "Season 13 (7.1)", "Season 14 (7.0)", "Season 15 (7.0)", "Season 16 (6.9)", "Season 17 (6.8)", "Season 18 (6.9)", "Season 19 (6.9)", "Season 20 (6.9)", "Season 21 (6.8)", "Season 22 (6.7)", "Season 23 (6.7)", "Season 24 (6.7)", "Season 25 (6.7)", "Season 26 (6.6)", "Season 27 (6.7)", "Season 28 (6.5)", "Season 29 (6.7)", "Season 30 (6.2)", "Season 31 (6.5)", "Season 32 (6.5)", "Seasons trendline"],
            "range": [
              "M-1,-0.12H1V0.12H-1Z M-0.45,-0.45H0.45V0.45H-0.45Z", "M-1,-0.12H1V0.12H-1Z M0,-0.5L0.5,0.45L-0.5,0.45Z", "M-1,-0.12H1V0.12H-1Z M-0.5,-0.45L0.5,-0.45L0,0.5Z", "M-1,-0.12H1V0.12H-1Z M-0.48,0A0.48,0.48 0 1,1 0.48,0A0.48,0.48 0 1,1 -0.48,0Z", "M-1,-0.12H1V0.12H-1Z M0,-0.55L0.55,0L0,0.55L-0.55,0Z",
              "M-1,-0.12H1V0.12H-1Z M-0.45,-0.45H0.45V0.45H-0.45Z", "M-1,-0.12H1V0.12H-1Z M0,-0.5L0.5,0.45L-0.5,0.45Z", "M-1,-0.12H1V0.12H-1Z M-0.5,-0.45L0.5,-0.45L0,0.5Z", "M-1,-0.12H1V0.12H-1Z M-0.48,0A0.48,0.48 0 1,1 0.48,0A0.48,0.48 0 1,1 -0.48,0Z", "M-1,-0.12H1V0.12H-1Z M0,-0.55L0.55,0L0,0.55L-0.55,0Z",
              "M-1,-0.12H1V0.12H-1Z M-0.45,-0.45H0.45V0.45H-0.45Z", "M-1,-0.12H1V0.12H-1Z M0,-0.5L0.5,0.45L-0.5,0.45Z", "M-1,-0.12H1V0.12H-1Z M-0.5,-0.45L0.5,-0.45L0,0.5Z", "M-1,-0.12H1V0.12H-1Z M-0.48,0A0.48,0.48 0 1,1 0.48,0A0.48,0.48 0 1,1 -0.48,0Z", "M-1,-0.12H1V0.12H-1Z M0,-0.55L0.55,0L0,0.55L-0.55,0Z",
              "M-1,-0.12H1V0.12H-1Z M-0.45,-0.45H0.45V0.45H-0.45Z", "M-1,-0.12H1V0.12H-1Z M0,-0.5L0.5,0.45L-0.5,0.45Z", "M-1,-0.12H1V0.12H-1Z M-0.5,-0.45L0.5,-0.45L0,0.5Z", "M-1,-0.12H1V0.12H-1Z M-0.48,0A0.48,0.48 0 1,1 0.48,0A0.48,0.48 0 1,1 -0.48,0Z", "M-1,-0.12H1V0.12H-1Z M0,-0.55L0.55,0L0,0.55L-0.55,0Z",
              "M-1,-0.12H1V0.12H-1Z M-0.45,-0.45H0.45V0.45H-0.45Z", "M-1,-0.12H1V0.12H-1Z M0,-0.5L0.5,0.45L-0.5,0.45Z", "M-1,-0.12H1V0.12H-1Z M-0.5,-0.45L0.5,-0.45L0,0.5Z", "M-1,-0.12H1V0.12H-1Z M-0.48,0A0.48,0.48 0 1,1 0.48,0A0.48,0.48 0 1,1 -0.48,0Z", "M-1,-0.12H1V0.12H-1Z M0,-0.55L0.55,0L0,0.55L-0.55,0Z",
              "M-1,-0.12H1V0.12H-1Z M-0.45,-0.45H0.45V0.45H-0.45Z", "M-1,-0.12H1V0.12H-1Z M0,-0.5L0.5,0.45L-0.5,0.45Z", "M-1,-0.12H1V0.12H-1Z M-0.5,-0.45L0.5,-0.45L0,0.5Z", "M-1,-0.12H1V0.12H-1Z M-0.48,0A0.48,0.48 0 1,1 0.48,0A0.48,0.48 0 1,1 -0.48,0Z", "M-1,-0.12H1V0.12H-1Z M0,-0.55L0.55,0L0,0.55L-0.55,0Z",
              "M-1,-0.12H1V0.12H-1Z M-0.45,-0.45H0.45V0.45H-0.45Z", "M-1,-0.12H1V0.12H-1Z M0,-0.5L0.5,0.45L-0.5,0.45Z",
              "M-1,-0.12H0V0.12H-1Z M0.45,-0.12H1V0.12H0.45Z"
            ]
          }
        }
      }
    }
  ]
}
